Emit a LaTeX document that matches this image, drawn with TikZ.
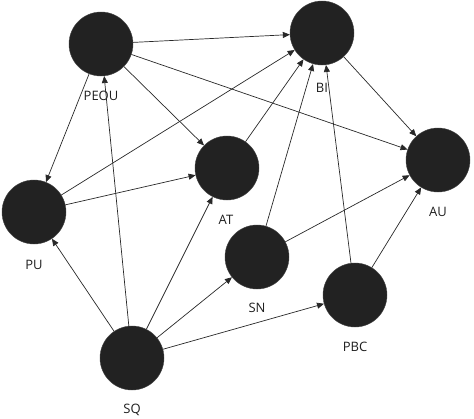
\documentclass[tikz,border=0pt]{standalone}
\usepackage{fontspec}
\setmainfont{Open Sans}
\usetikzlibrary{arrows.meta}

\tikzset{
  construct/.style={circle,fill={rgb,255:red,34;green,34;blue,34},draw={rgb,255:red,70;green,70;blue,70},
    minimum size=64pt,inner sep=0pt},
  tag/.style={font=\fontsize{13}{15}\selectfont,text={rgb,255:red,30;green,30;blue,30}},
  path/.style={-{Triangle[length=7pt,width=6pt]},line width=0.7pt,draw={rgb,255:red,40;green,40;blue,40}}
}

\begin{document}
\begin{tikzpicture}[x=1pt,y=-1pt]
\useasboundingbox (0,0) rectangle (474,418);
% the constructs
\node[construct] (PEOU) at (101,44) {};
\node[construct] (BI) at (322,33) {};
\node[construct] (AT) at (227,168) {};
\node[construct] (AU) at (438,160) {};
\node[construct] (PU) at (34,212) {};
\node[construct] (SN) at (257,257) {};
\node[construct] (PBC) at (355,295) {};
\node[construct] (SQ) at (132,358) {};
% the names under the circles
\node[tag] (PEOUtag) at (101,96) {PEOU};
\node[tag] (BItag) at (322,88) {BI};
\node[tag] (ATtag) at (226,220) {AT};
\node[tag] (AUtag) at (438,212) {AU};
\node[tag] (PUtag) at (34,265) {PU};
\node[tag] (SNtag) at (257,308) {SN};
\node[tag] (PBCtag) at (355,347) {PBC};
\node[tag] (SQtag) at (132,410) {SQ};
% paths out of PEOU
\draw[path] (PEOU) -- (BI);
\draw[path] (PEOU) -- (AU);
\draw[path] (PEOU) -- (AT);
\draw[path] (PEOU) -- (PU);
% paths into BI
\draw[path] (PU) -- (BI);
\draw[path] (AT) -- (BI);
\draw[path] (SN) -- (BI);
\draw[path] (PBC) -- (BI);
% paths into AU
\draw[path] (BI) -- (AU);
\draw[path] (SN) -- (AU);
\draw[path] (PBC) -- (AU);
\draw[path] (PU) -- (AT);
% paths out of SQ
\draw[path] (SQ) -- (PEOU);
\draw[path] (SQ) -- (PU);
\draw[path] (SQ) -- (AT);
\draw[path] (SQ) -- (SN);
\draw[path] (SQ) -- (PBC);
\end{tikzpicture}
\end{document}
